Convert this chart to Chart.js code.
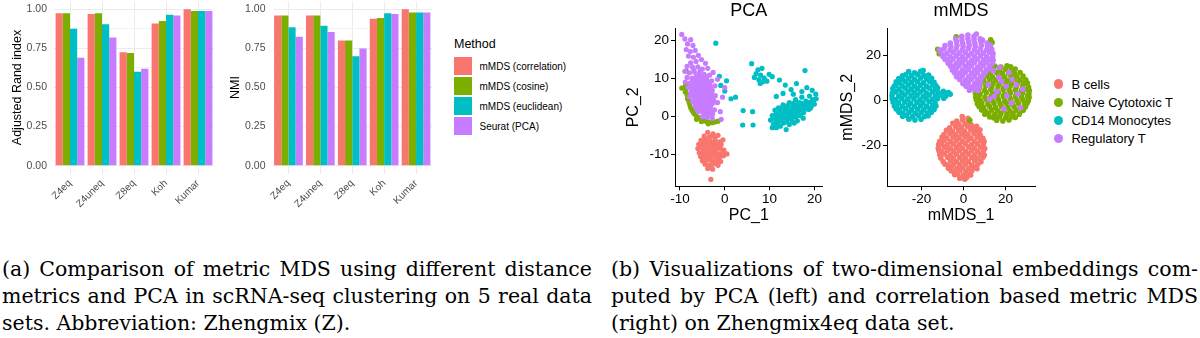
<!DOCTYPE html>
<html>
<head>
<meta charset="utf-8">
<script src="https://cdn.jsdelivr.net/npm/chart.js@4.4.1/dist/chart.umd.min.js"></script>
<style>
  body { margin: 0; width: 1200px; height: 338px; background: #fff; position: relative; overflow: hidden;
         font-family: "Liberation Sans", Arial, sans-serif; }
  canvas { position: absolute; display: block; }
  .legend { position: absolute; color: #000; }
  .legend .ttl { font-size: 12.5px; margin-bottom: 5px; }
  .legend .row { display: flex; align-items: center; }
  .cap { position: absolute; font-family: "DejaVu Serif", serif; font-size: 20.5px;
         line-height: 27px; color: #000; }
  .cap .j { text-align: justify; text-align-last: justify; }
</style>
</head>
<body>
<canvas id="ari" width="216" height="220" style="left:0;top:0"></canvas>
<canvas id="nmi" width="214" height="220" style="left:222px;top:0"></canvas>
<div class="legend" id="methodLegend" style="left:454px;top:37px"></div>
<canvas id="pca" width="224" height="226" style="left:606px;top:0"></canvas>
<canvas id="mmds" width="220" height="226" style="left:820px;top:0"></canvas>
<div class="legend" id="cellLegend" style="left:1054px;top:75px"></div>

<div class="cap" style="left:2px;top:256px;width:590px">
  <div class="j">(a) Comparison of metric MDS using different distance</div>
  <div class="j">metrics and PCA in scRNA-seq clustering on 5 real data</div>
  <div>sets. Abbreviation: Zhengmix (Z).</div>
</div>
<div class="cap" style="left:611px;top:256px;width:587px">
  <div class="j">(b) Visualizations of two-dimensional embeddings com-</div>
  <div class="j">puted by PCA (left) and correlation based metric MDS</div>
  <div>(right) on Zhengmix4eq data set.</div>
</div>

<script>
// ---- bar chart data (a) ----
const dataSets = ['Z4eq', 'Z4uneq', 'Z8eq', 'Koh', 'Kumar'];
const methods = ['mMDS (correlation)', 'mMDS (cosine)', 'mMDS (euclidean)', 'Seurat (PCA)'];
const methodColors = ['#F8766D', '#7CAE00', '#00BFC4', '#C77CFF'];

const ariCorrelation = [0.975, 0.97, 0.725, 0.91, 1.00];
const ariCosine      = [0.975, 0.975, 0.72, 0.925, 0.99];
const ariEuclidean   = [0.875, 0.905, 0.60, 0.965, 0.99];
const ariSeurat      = [0.69, 0.82, 0.62, 0.96, 0.99];

const nmiCorrelation = [0.96, 0.96, 0.80, 0.94, 1.00];
const nmiCosine      = [0.96, 0.96, 0.80, 0.945, 0.98];
const nmiEuclidean   = [0.885, 0.895, 0.70, 0.975, 0.98];
const nmiSeurat      = [0.825, 0.855, 0.75, 0.97, 0.98];

const scoreTicks = [0, 0.125, 0.25, 0.375, 0.5, 0.625, 0.75, 0.875, 1];

// ---- embedding data (b) ----
const cellTypes = ['B cells', 'Naive Cytotoxic T', 'CD14 Monocytes', 'Regulatory T'];
const cellColors = ['#F8766D', '#7CAE00', '#00BFC4', '#C77CFF'];

const pcaTicks = [-10, 0, 10, 20];
const mdsTicks = [-20, 0, 20];

const pcaBcells = [[-3.8,-4.2],[-2.6,-4.6],[-4.6,-5.2],[-3.4,-5.4],[-2.2,-5.6],[-1.5,-5.0],
  [-5.3,-6.3],[-4.3,-6.1],[-3.2,-6.5],[-2.1,-6.4],[-1.1,-6.7],[-0.4,-6.2],
  [-5.8,-7.4],[-4.8,-7.2],[-3.8,-7.5],[-2.8,-7.3],[-1.8,-7.6],[-0.8,-7.4],
  [-6.0,-8.5],[-5.0,-8.3],[-4.0,-8.6],[-3.0,-8.4],[-2.0,-8.7],[-1.0,-8.5],[-0.2,-8.9],
  [-5.7,-9.6],[-4.6,-9.4],[-3.5,-9.7],[-2.5,-9.5],[-1.5,-9.8],[-0.5,-9.6],[0.5,-9.9],
  [-5.4,-10.6],[-4.3,-10.5],[-3.2,-10.8],[-2.2,-10.6],[-1.2,-10.9],[-0.3,-10.4],
  [-5.0,-11.7],[-3.9,-11.5],[-2.8,-11.8],[-1.8,-11.6],[-0.9,-11.9],
  [-4.4,-12.6],[-3.4,-12.8],[-2.4,-12.5],[-1.5,-12.9],[-3.8,-13.7],[-2.7,-13.9],[-3.1,-16.6],
  [-4.5,-8.0],[-3.5,-9.0],[-2.5,-8.0],[-3.0,-10.0],[-4.0,-9.9],[-2.0,-10.2],[-3.6,-11.2],[-4.8,-9.0],
  [-4.2,-7.0],[-2.4,-6.9],[-1.3,-8.1],[-5.2,-10.1],[-1.0,-10.3],[-4.6,-11.2],[-2.3,-12.0],[-3.1,-13.2],
  [-2.8,-5.2],[-5.5,-8.0]];
const pcaNaiveT = [[-9.6,7.4],[-9.0,7.6],[-8.6,7.2],[-8.8,6.4],[-8.4,5.6],[-8.3,4.6],[-8.0,3.8],[-7.8,3.0],
  [-7.6,2.2],[-7.3,1.5],[-6.9,0.8],[-6.5,0.3],[-6.0,-0.2],[-5.5,-0.6],[-5.0,-0.9],[-4.5,-1.2],[-4.0,-1.4],
  [-3.4,-1.6],[-2.8,-1.7],[-2.2,-1.5],[-1.5,-1.3],[-8.6,11.9],[-7.9,4.2],[-7.2,2.0],[-6.3,-0.8],
  [-5.2,-1.4],[-3.7,-2.0],[-8.7,8.3]];
const pcaMonocytes = [[10.2,-1.0],[10.6,0.2],[10.9,-2.0],[11.3,-0.8],[11.5,0.6],[11.8,-1.8],[12.1,0.0],[12.3,1.3],
  [12.6,-1.1],[12.9,0.6],[13.1,-0.3],[13.3,2.0],[13.6,1.0],[13.8,-1.4],[14.0,0.2],[14.2,2.2],[14.5,1.2],
  [14.7,-0.6],[15.0,0.6],[15.2,2.6],[15.4,1.6],[15.7,-0.2],[15.9,1.2],[16.1,3.0],[16.4,2.1],[16.6,0.4],
  [16.9,1.7],[17.1,3.4],[17.4,2.6],[17.6,1.0],[17.9,2.0],[18.1,4.0],[18.4,3.0],[18.7,1.8],[19.0,3.6],
  [19.3,2.6],[19.6,4.4],[20.0,3.2],[20.4,4.6],[18.9,5.3],[17.2,5.0],[15.8,4.4],[14.4,3.6],[13.0,3.0],
  [12.0,2.2],[11.2,1.6],[12.4,-2.6],[14.4,-2.2],[16.2,-1.2],[13.7,-3.5],[11.5,-3.0],[10.6,-3.0],
  [15.5,-1.8],[17.5,-0.5],[13.2,0.4],[14.8,1.8],[16.0,1.0],[12.2,-0.4],
  [11.0,-0.2],[11.9,0.9],[12.7,-0.4],[13.5,1.5],[13.9,-0.6],[14.3,0.9],[14.9,-0.1],[15.1,1.4],[15.6,2.2],
  [16.0,0.0],[16.3,1.5],[16.8,2.5],[17.3,1.6],[17.8,2.9],[18.2,2.4],[18.6,3.6],[19.1,2.1],[19.8,3.8],
  [12.9,2.3],[14.0,2.8],[15.3,3.4],[16.6,3.6],[11.8,-1.0],[13.1,-1.8],[15.0,-1.2],[16.9,0.2],
  [12.2,9.5],[13.5,8.2],[14.8,7.0],[16.0,8.6],[17.2,6.5],[15.3,5.8],[18.3,7.5],[19.5,6.8],[17.9,12.0],
  [20.3,5.8],[13.0,6.0],[11.5,5.2],
  [6.0,13.8],[7.4,12.2],[8.3,12.6],[7.0,11.2],[8.0,10.8],[8.8,10.0],[7.6,9.6],[9.4,9.2],[6.6,10.2],
  [8.4,9.0],[9.9,11.0],[10.6,10.4],[7.9,8.6],
  [-2.0,19.2],[0.4,9.3],[2.4,5.0],[1.4,4.6],[4.1,1.5],[4.0,-2.3],[6.3,-2.3],[6.2,1.2],[-0.9,8.1],
  [0.0,6.6],[-1.2,10.5]];
const pcaRegT = [[-9.6,21.5],[-8.9,20.3],[-7.6,20.1],[-8.3,19.0],[-7.1,18.6],[-8.6,17.5],[-7.7,17.0],[-6.6,17.3],
  [-5.9,16.0],[-8.1,15.8],[-7.0,15.5],[-5.2,14.9],[-6.4,14.4],[-7.6,14.0],[-4.3,13.9],[-8.4,13.1],
  [-7.2,12.9],[-6.0,13.0],[-5.0,12.4],[-3.8,12.6],[-8.9,11.8],
  [-7.9,11.4],[-6.8,11.6],[-5.7,11.2],[-4.6,11.0],[-3.4,10.8],[-2.6,11.5],[-8.4,10.2],[-7.3,10.0],
  [-6.2,10.1],[-5.1,9.8],[-4.0,9.6],[-2.9,9.3],[-8.8,9.0],[-7.7,8.8],[-6.6,8.9],[-5.5,8.6],[-4.4,8.4],
  [-3.3,8.2],[-2.2,8.0],[-1.6,9.7],
  [-8.2,7.6],[-7.1,7.5],[-6.0,7.4],[-4.9,7.2],[-3.8,7.0],[-2.8,6.8],[-7.6,6.3],[-6.5,6.2],[-5.4,6.1],
  [-4.3,5.9],[-3.2,5.7],[-2.1,5.4],[-7.9,5.1],[-6.8,5.0],[-5.7,4.9],[-4.6,4.7],[-3.5,4.5],[-2.5,4.3],
  [-7.2,3.8],[-6.1,3.7],[-5.0,3.6],[-3.9,3.4],[-2.9,3.2],[-1.6,3.6],[-6.6,2.5],[-5.5,2.4],[-4.4,2.2],
  [-3.3,2.0],[-2.3,1.7],[-5.9,1.2],[-4.8,1.0],[-3.7,0.8],[-2.7,0.6],[-1.0,1.2],[-5.0,-0.1],[-3.9,-0.3],
  [-2.8,-0.5],[-0.8,-0.8],[-0.5,5.0],[0.0,7.5],
  [-6.5,6.8],[-5.0,5.5],[-4.0,6.5],[-6.0,4.3],[-4.2,3.0],[-5.5,8.0],[-3.5,7.6],[-5.2,2.9],
  [-7.6,8.2],[-6.5,8.1],[-5.4,7.9],[-4.3,7.7],[-3.2,7.5],[-7.3,6.9],[-6.2,6.8],[-5.1,6.6],[-4.0,6.4],
  [-2.9,6.2],[-7.4,5.7],[-6.3,5.6],[-5.2,5.4],[-4.1,5.2],[-3.0,5.0],[-6.7,4.4],[-5.6,4.3],[-4.5,4.1],
  [-3.4,3.9],[-2.3,3.7],[-6.5,3.1],[-5.4,3.0],[-4.3,2.8],[-3.2,2.6],[-6.1,1.8],[-5.0,1.7],[-3.9,1.5],
  [-2.8,1.3],[-4.4,0.4],[-3.3,0.2],[-7.0,9.4],[-5.9,9.3],[-4.8,9.1],[-3.7,8.9],[-6.3,10.6],[-5.2,10.4],
  [-4.1,10.3],[-6.9,12.2],[-5.5,11.9]];

const mdsBcells = [[-0.6,-7.2],[2.1,-8.0],[-3.2,-9.3],[-0.4,-8.8],[2.5,-9.4],
  [-5.1,-10.2],[-2.2,-10.8],[0.7,-10.4],[3.6,-10.9],
  [-6.6,-12.3],[-3.7,-11.8],[-0.9,-12.2],[2.0,-11.7],[4.9,-12.4],[6.2,-11.6],
  [-8.1,-13.3],[-5.2,-13.8],[-2.3,-13.4],[0.5,-13.7],[3.4,-13.2],[6.3,-13.9],[7.8,-13.1],
  [-9.3,-15.2],[-6.5,-14.8],[-3.6,-15.3],[-0.8,-14.9],[2.1,-15.2],[5.0,-14.7],[7.9,-15.3],
  [-10.2,-16.3],[-7.9,-16.8],[-5.0,-16.4],[-2.1,-16.7],[0.7,-16.2],[3.6,-16.8],[6.5,-16.4],[9.2,-16.9],
  [-11.3,-18.2],[-9.2,-17.8],[-6.3,-18.3],[-3.5,-17.9],[-0.6,-18.2],[2.2,-17.7],[5.1,-18.3],[8.0,-17.9],[9.8,-18.4],
  [-11.8,-19.6],[-10.6,-19.3],[-7.8,-19.8],[-4.9,-19.4],[-2.0,-19.7],[0.8,-19.3],[3.7,-19.8],[6.6,-19.4],[9.4,-19.7],
  [-12.0,-21.3],[-9.2,-20.8],[-6.3,-21.2],[-3.4,-20.9],[-0.6,-21.3],[2.3,-20.8],[5.2,-21.2],[8.1,-20.9],[10.1,-21.4],
  [-11.7,-22.4],[-10.6,-22.8],[-7.7,-22.3],[-4.9,-22.7],[-2.0,-22.3],[0.9,-22.8],[3.8,-22.4],[6.6,-22.7],[9.5,-22.3],
  [-11.3,-24.2],[-9.1,-23.8],[-6.2,-24.3],[-3.4,-23.9],[-0.5,-24.2],[2.3,-23.8],[5.2,-24.3],[8.1,-23.9],[9.9,-24.3],
  [-10.8,-25.6],[-7.6,-25.3],[-4.8,-25.8],[-1.9,-25.4],[0.9,-25.7],[3.8,-25.3],[6.7,-25.8],[9.2,-25.4],
  [-9.7,-27.2],[-6.2,-26.8],[-3.3,-27.3],[-0.5,-26.9],[2.4,-27.2],[5.3,-26.8],[8.3,-27.3],
  [-8.8,-28.4],[-7.4,-28.8],[-4.7,-28.3],[-1.8,-28.7],[1.0,-28.3],[3.9,-28.8],[6.8,-28.4],
  [-7.2,-30.2],[-5.9,-29.8],[-3.2,-30.3],[-0.3,-29.9],[2.5,-30.2],[5.3,-29.8],[6.4,-30.4],
  [-5.8,-31.4],[-4.5,-31.7],[-1.7,-31.3],[1.1,-31.8],[3.9,-31.4],
  [-4.2,-33.1],[-2.9,-32.8],[-0.2,-33.3],[2.5,-32.9],[3.4,-33.2],[-1.8,-34.6],[0.6,-35.1],[1.5,-34.3]];
const mdsNaiveT = [[14.9,15.2],[17.8,14.7],[20.7,15.3],[22.4,14.8],
  [12.4,13.4],[14.3,13.8],[17.2,13.3],[20.1,13.7],[23.0,13.3],[24.6,13.8],
  [10.1,12.2],[12.7,11.8],[15.6,12.3],[18.5,11.9],[21.4,12.2],[24.3,11.7],[26.9,12.3],
  [8.6,10.4],[10.9,10.8],[13.8,10.3],[16.7,10.7],[19.6,10.3],[22.5,10.8],[25.4,10.4],[28.3,10.7],
  [7.4,9.2],[9.5,8.8],[12.4,9.3],[15.3,8.9],[18.2,9.2],[21.1,8.7],[24.0,9.3],[26.9,8.9],[29.6,9.1],
  [6.6,7.4],[8.4,7.8],[11.3,7.3],[14.2,7.7],[17.1,7.3],[20.0,7.8],[22.9,7.4],[25.8,7.7],[28.7,7.3],[30.4,7.6],
  [6.1,6.2],[7.7,5.8],[10.6,6.3],[13.5,5.9],[16.4,6.2],[19.3,5.7],[22.2,6.3],[25.1,5.9],[28.0,6.2],[30.9,5.8],
  [5.8,4.4],[7.2,4.8],[10.1,4.3],[13.0,4.7],[15.9,4.3],[18.8,4.8],[21.7,4.4],[24.6,4.7],[27.5,4.3],[30.4,4.8],[31.3,4.3],
  [5.6,3.2],[7.9,2.8],[10.8,3.3],[13.7,2.9],[16.6,3.2],[19.5,2.7],[22.4,3.3],[25.3,2.9],[28.2,3.2],[31.1,2.8],
  [5.8,1.4],[7.3,1.8],[10.2,1.3],[13.1,1.7],[16.0,1.3],[18.9,1.8],[21.8,1.4],[24.7,1.7],[27.6,1.3],[30.5,1.8],[31.2,1.2],
  [6.1,0.2],[8.0,-0.2],[10.9,0.3],[13.8,-0.1],[16.7,0.2],[19.6,-0.3],[22.5,0.3],[25.4,-0.1],[28.3,0.2],[30.8,-0.2],
  [6.6,-1.6],[8.7,-1.2],[11.6,-1.7],[14.5,-1.3],[17.4,-1.6],[20.3,-1.2],[23.2,-1.7],[26.1,-1.3],[29.0,-1.6],[30.3,-1.2],
  [7.4,-2.8],[9.5,-3.2],[12.4,-2.8],[15.3,-3.3],[18.2,-2.9],[21.1,-3.2],[24.0,-2.8],[26.9,-3.3],[29.5,-2.9],
  [8.6,-4.4],[10.5,-4.8],[13.4,-4.3],[16.3,-4.7],[19.2,-4.3],[22.1,-4.8],[25.0,-4.4],[27.9,-4.7],[28.5,-4.3],
  [10.1,-6.2],[12.0,-5.8],[14.9,-6.3],[17.8,-5.9],[20.7,-6.2],[23.6,-5.8],[26.5,-6.2],
  [12.4,-7.4],[14.3,-7.8],[17.2,-7.3],[20.1,-7.7],[23.0,-7.3],[24.6,-7.7],[15.8,-8.9],[18.7,-9.2],[21.6,-8.8],
  [-12.3,22.6],[-11.6,20.6],[-3.5,28.1],[13.6,25.6],[12.9,26.8],[3.0,-8.9]];
const mdsMonocytes = [[-26.1,12.7],[-23.3,12.2],[-20.4,12.8],[-19.2,13.2],
  [-29.0,10.8],[-27.6,11.3],[-24.7,10.9],[-21.8,11.4],[-18.9,10.9],[-16.6,11.2],
  [-30.8,9.6],[-29.1,9.2],[-26.2,9.7],[-23.3,9.3],[-20.4,9.8],[-17.5,9.4],[-15.2,9.7],
  [-32.0,8.2],[-30.6,7.8],[-27.7,8.3],[-24.8,7.9],[-21.9,8.2],[-19.0,7.7],[-16.1,8.3],[-14.0,7.9],
  [-32.9,6.3],[-32.1,6.8],[-29.2,6.4],[-26.3,6.8],[-23.4,6.3],[-20.5,6.7],[-17.6,6.2],[-14.7,6.8],[-13.1,6.4],
  [-33.6,5.2],[-30.7,4.8],[-27.8,5.3],[-24.9,4.9],[-22.0,5.2],[-19.1,4.7],[-16.2,5.3],[-13.3,4.9],[-12.3,5.4],
  [-33.8,3.3],[-32.2,3.7],[-29.3,3.3],[-26.4,3.8],[-23.5,3.4],[-20.6,3.7],[-17.7,3.2],[-14.8,3.8],[-12.1,3.4],[-9.6,3.9],[-7.2,3.4],
  [-34.0,2.1],[-30.8,1.8],[-27.9,2.3],[-25.0,1.9],[-22.1,2.2],[-19.2,1.7],[-16.3,2.3],[-13.4,1.9],[-10.8,2.4],[-8.4,1.9],[-6.3,2.6],
  [-33.9,0.6],[-32.3,0.3],[-29.4,0.8],[-26.5,0.4],[-23.6,0.7],[-20.7,0.2],[-17.8,0.8],[-14.9,0.4],[-12.3,0.7],[-9.4,0.9],
  [-33.5,-0.8],[-30.9,-1.2],[-28.0,-0.8],[-25.1,-1.3],[-22.2,-0.9],[-19.3,-1.2],[-16.4,-0.7],[-13.6,-1.1],
  [-32.9,-2.6],[-32.0,-2.3],[-29.1,-2.7],[-26.2,-2.3],[-23.3,-2.8],[-20.4,-2.4],[-17.5,-2.7],[-14.6,-2.3],[-13.1,-2.6],
  [-32.0,-3.9],[-30.5,-4.2],[-27.6,-3.8],[-24.7,-4.3],[-21.8,-3.9],[-18.9,-4.2],[-16.0,-3.8],[-14.0,-4.1],
  [-30.7,-5.4],[-28.8,-5.7],[-25.9,-5.3],[-23.0,-5.8],[-20.1,-5.4],[-17.2,-5.7],[-15.3,-5.3],
  [-29.0,-7.1],[-27.2,-6.8],[-24.3,-7.2],[-21.4,-6.8],[-18.5,-7.2],[-16.8,-6.9],
  [-26.0,-8.4],[-23.1,-8.8],[-20.2,-8.5],[15.0,-7.4]];
const mdsRegT = [[-0.8,28.4],[2.1,28.9],[5.0,28.3],[6.1,29.4],
  [-3.7,27.2],[-0.8,26.8],[2.1,27.3],[5.0,26.9],[7.9,27.2],[9.0,26.7],
  [-6.3,25.4],[-3.3,25.8],[-0.4,25.3],[2.5,25.7],[5.4,25.2],[8.3,25.8],[11.2,25.4],
  [-8.8,24.2],[-6.0,23.8],[-3.1,24.3],[-0.2,23.9],[2.7,24.2],[5.6,23.8],[8.5,24.3],[11.4,23.9],[12.8,24.4],
  [-11.4,22.4],[-9.3,22.8],[-6.4,22.3],[-3.5,22.7],[-0.6,22.3],[2.3,22.8],[5.2,22.4],[8.1,22.7],[11.0,22.3],[13.4,22.6],
  [-10.8,21.2],[-7.9,20.8],[-5.0,21.3],[-2.1,20.9],[0.8,21.2],[3.7,20.7],[6.6,21.3],[9.5,20.9],[12.4,21.2],[14.0,20.8],
  [-9.8,19.4],[-9.3,19.8],[-6.4,19.3],[-3.5,19.7],[-0.6,19.3],[2.3,19.8],[5.2,19.4],[8.1,19.7],[11.0,19.3],[13.9,19.6],
  [-8.8,18.2],[-7.9,17.8],[-5.0,18.3],[-2.1,17.9],[0.8,18.2],[3.7,17.7],[6.6,18.3],[9.5,17.9],[12.4,18.2],[14.1,17.7],
  [-7.3,16.4],[-6.4,16.8],[-3.5,16.3],[-0.6,16.7],[2.3,16.3],[5.2,16.8],[8.1,16.4],[11.0,16.7],[13.6,16.3],
  [-6.2,15.2],[-5.0,14.8],[-2.1,15.3],[0.8,14.9],[3.7,15.2],[6.6,14.7],[9.5,15.3],[12.4,14.9],
  [-5.3,13.4],[-3.5,13.8],[-0.6,13.3],[2.3,13.7],[5.2,13.3],[8.1,13.8],[11.0,13.4],[11.9,13.9],
  [-4.3,12.2],[-2.1,11.8],[0.8,12.3],[3.7,11.9],[6.6,12.2],[9.5,11.7],[10.4,12.3],
  [-3.3,10.4],[-0.6,10.8],[2.3,10.3],[5.2,10.7],[8.1,10.3],[9.3,10.8],
  [-1.8,9.2],[0.8,8.8],[3.7,9.3],[6.6,8.9],[8.3,9.2],
  [-0.3,7.4],[2.3,7.8],[5.2,7.3],[7.8,7.7],[1.2,6.2],[3.7,5.8],[6.6,6.3],[7.3,5.7],[2.8,4.4],[5.2,4.8],[6.8,4.3],
  [14.2,13.1],[16.8,10.2],[20.3,6.1],[15.9,3.8],[23.1,9.2],[12.3,0.4],[25.8,2.7],[19.2,-3.8],[21.7,12.3],
  [25.1,6.8],[14.4,1.6],[28.2,4.9],[18.1,8.3],[17.2,14.6],[11.8,6.9],[22.9,-1.2],[27.1,-3.4],[20.6,1.9]];

function pairs(list) { return list.map(p => ({x: p[0], y: p[1]})); }

// ---- bar charts ----
function isMajor(v) { return Math.abs(v * 4 - Math.round(v * 4)) < 1e-6; }

function barChart(id, yTitle, series, yWidth, titlePad, rightPad) {
  new Chart(document.getElementById(id), {
    type: 'bar',
    data: {
      labels: dataSets,
      datasets: series.map((d, i) => ({
        label: methods[i], data: d, backgroundColor: methodColors[i],
        borderWidth: 0, categoryPercentage: 0.9, barPercentage: 1.0
      }))
    },
    options: {
      responsive: false, animation: false, devicePixelRatio: 1,
      layout: { padding: { top: 1.5, right: rightPad, left: 0, bottom: 0 } },
      plugins: { legend: { display: false }, tooltip: { enabled: false } },
      scales: {
        x: {
          grid: { offset: false, color: '#EBEBEB', lineWidth: 1, drawTicks: false },
          border: { display: false },
          ticks: { minRotation: 45, maxRotation: 45, autoSkip: false, padding: 4,
                   color: '#4D4D4D', font: { family: 'Liberation Sans', size: 10 } },
          afterFit: s => { s.height = 220 - 173.5; s.paddingLeft = 0; s.paddingRight = 0; }
        },
        y: {
          min: -0.05, max: 1.05,
          afterBuildTicks: s => { s.ticks = scoreTicks.map(v => ({ value: v })); },
          afterFit: s => { s.width = yWidth; s.paddingTop = 0; s.paddingBottom = 0; },
          grid: { drawTicks: false,
                  color: c => isMajor(c.tick.value) ? '#EBEBEB' : '#F4F4F4',
                  lineWidth: 1 },
          border: { display: false },
          ticks: { padding: 7, color: '#4D4D4D', font: { family: 'Liberation Sans', size: 10.5 },
                   callback: v => isMajor(v) ? v.toFixed(2) : '' },
          title: { display: true, text: yTitle, color: '#000',
                   font: { family: 'Liberation Sans', size: 12.5 }, padding: { top: titlePad, bottom: 0 } }
        }
      }
    }
  });
}

barChart('ari', 'Adjusted Rand index', [ariCorrelation, ariCosine, ariEuclidean, ariSeurat], 54, 10.5, 2);
barChart('nmi', 'NMI', [nmiCorrelation, nmiCosine, nmiEuclidean, nmiSeurat], 50.5, 6.5, 4);

// ---- scatter charts ----
function scatterChart(id, title, xTitle, yTitle, groups, orders, xRange, yRange, xTicks, yTicks, yWidth, yTitlePad, rightPad, radius) {
  const tickFont = { family: 'Liberation Sans', size: 13.5 };
  const titleFont = { family: 'Liberation Sans', size: 16 };
  new Chart(document.getElementById(id), {
    type: 'scatter',
    data: {
      datasets: groups.map((g, i) => ({
        label: cellTypes[i], data: pairs(g), order: orders[i],
        backgroundColor: cellColors[i], borderWidth: 0, pointRadius: radius, pointHoverRadius: radius
      }))
    },
    options: {
      responsive: false, animation: false, devicePixelRatio: 1,
      layout: { padding: { top: 0, right: rightPad, left: 0, bottom: 0 } },
      plugins: { legend: { display: false }, tooltip: { enabled: false } },
      scales: {
        x: {
          type: 'linear', position: 'bottom', min: xRange[0], max: xRange[1],
          afterBuildTicks: s => { s.ticks = xTicks.map(v => ({ value: v })); },
          afterFit: s => { s.height = 226 - 186.3; s.paddingLeft = 0; s.paddingRight = 0; },
          grid: { drawOnChartArea: false, drawTicks: true, tickLength: 4, color: '#000' },
          border: { display: true, color: '#000', width: 1 },
          ticks: { padding: 1, color: '#000', font: tickFont, maxRotation: 0 },
          title: { display: true, text: xTitle, color: '#000', font: titleFont, padding: { top: 0, bottom: 0.5 } }
        },
        top: {
          type: 'linear', position: 'top', axis: 'x',
          afterFit: s => { s.height = 28.3; s.paddingLeft = 0; s.paddingRight = 0; },
          grid: { display: false }, border: { display: false }, ticks: { display: false },
          title: { display: true, text: title, color: '#000',
                   font: { family: 'Liberation Sans', size: 18 }, padding: { top: 0, bottom: 0 } }
        },
        y: {
          type: 'linear', min: yRange[0], max: yRange[1],
          afterBuildTicks: s => { s.ticks = yTicks.map(v => ({ value: v })); },
          afterFit: s => { s.width = yWidth; s.paddingTop = 0; s.paddingBottom = 0; },
          grid: { drawOnChartArea: false, drawTicks: true, tickLength: 4, color: '#000' },
          border: { display: true, color: '#000', width: 1 },
          ticks: { padding: 2, color: '#000', font: tickFont },
          title: { display: true, text: yTitle, color: '#000', font: titleFont, padding: { top: yTitlePad, bottom: 0 } }
        }
      }
    }
  });
}

scatterChart('pca', 'PCA', 'PC_1', 'PC_2', [pcaBcells, pcaNaiveT, pcaMonocytes, pcaRegT], [2, 1, 2, 0],
  [-11.1, 21.85], [-18.4, 23.1], pcaTicks, pcaTicks, 69, 18.4, 7.3, 2.6);
scatterChart('mmds', 'mMDS', 'mMDS_1', 'mMDS_2', [mdsBcells, mdsNaiveT, mdsMonocytes, mdsRegT], [2, 1, 2, 0],
  [-36.4, 34.0], [-38.2, 31.9], mdsTicks, mdsTicks, 67, 17.9, 5, 2.8);

// ---- legends ----
const ml = document.getElementById('methodLegend');
ml.innerHTML = '<div class="ttl">Method</div>' + methods.map((m, i) =>
  `<div class="row" style="height:20px"><span style="display:inline-block;width:17.5px;height:18px;background:${methodColors[i]};margin-right:8px"></span>` +
  `<span style="font-size:10px">${m}</span></div>`).join('');

const cl = document.getElementById('cellLegend');
cl.innerHTML = cellTypes.map((c, i) =>
  `<div class="row" style="height:18.2px"><span style="display:inline-block;width:9.4px;height:9.4px;border-radius:50%;background:${cellColors[i]};margin-right:8px"></span>` +
  `<span style="font-size:13px">${c}</span></div>`).join('');
</script>
</body>
</html>
